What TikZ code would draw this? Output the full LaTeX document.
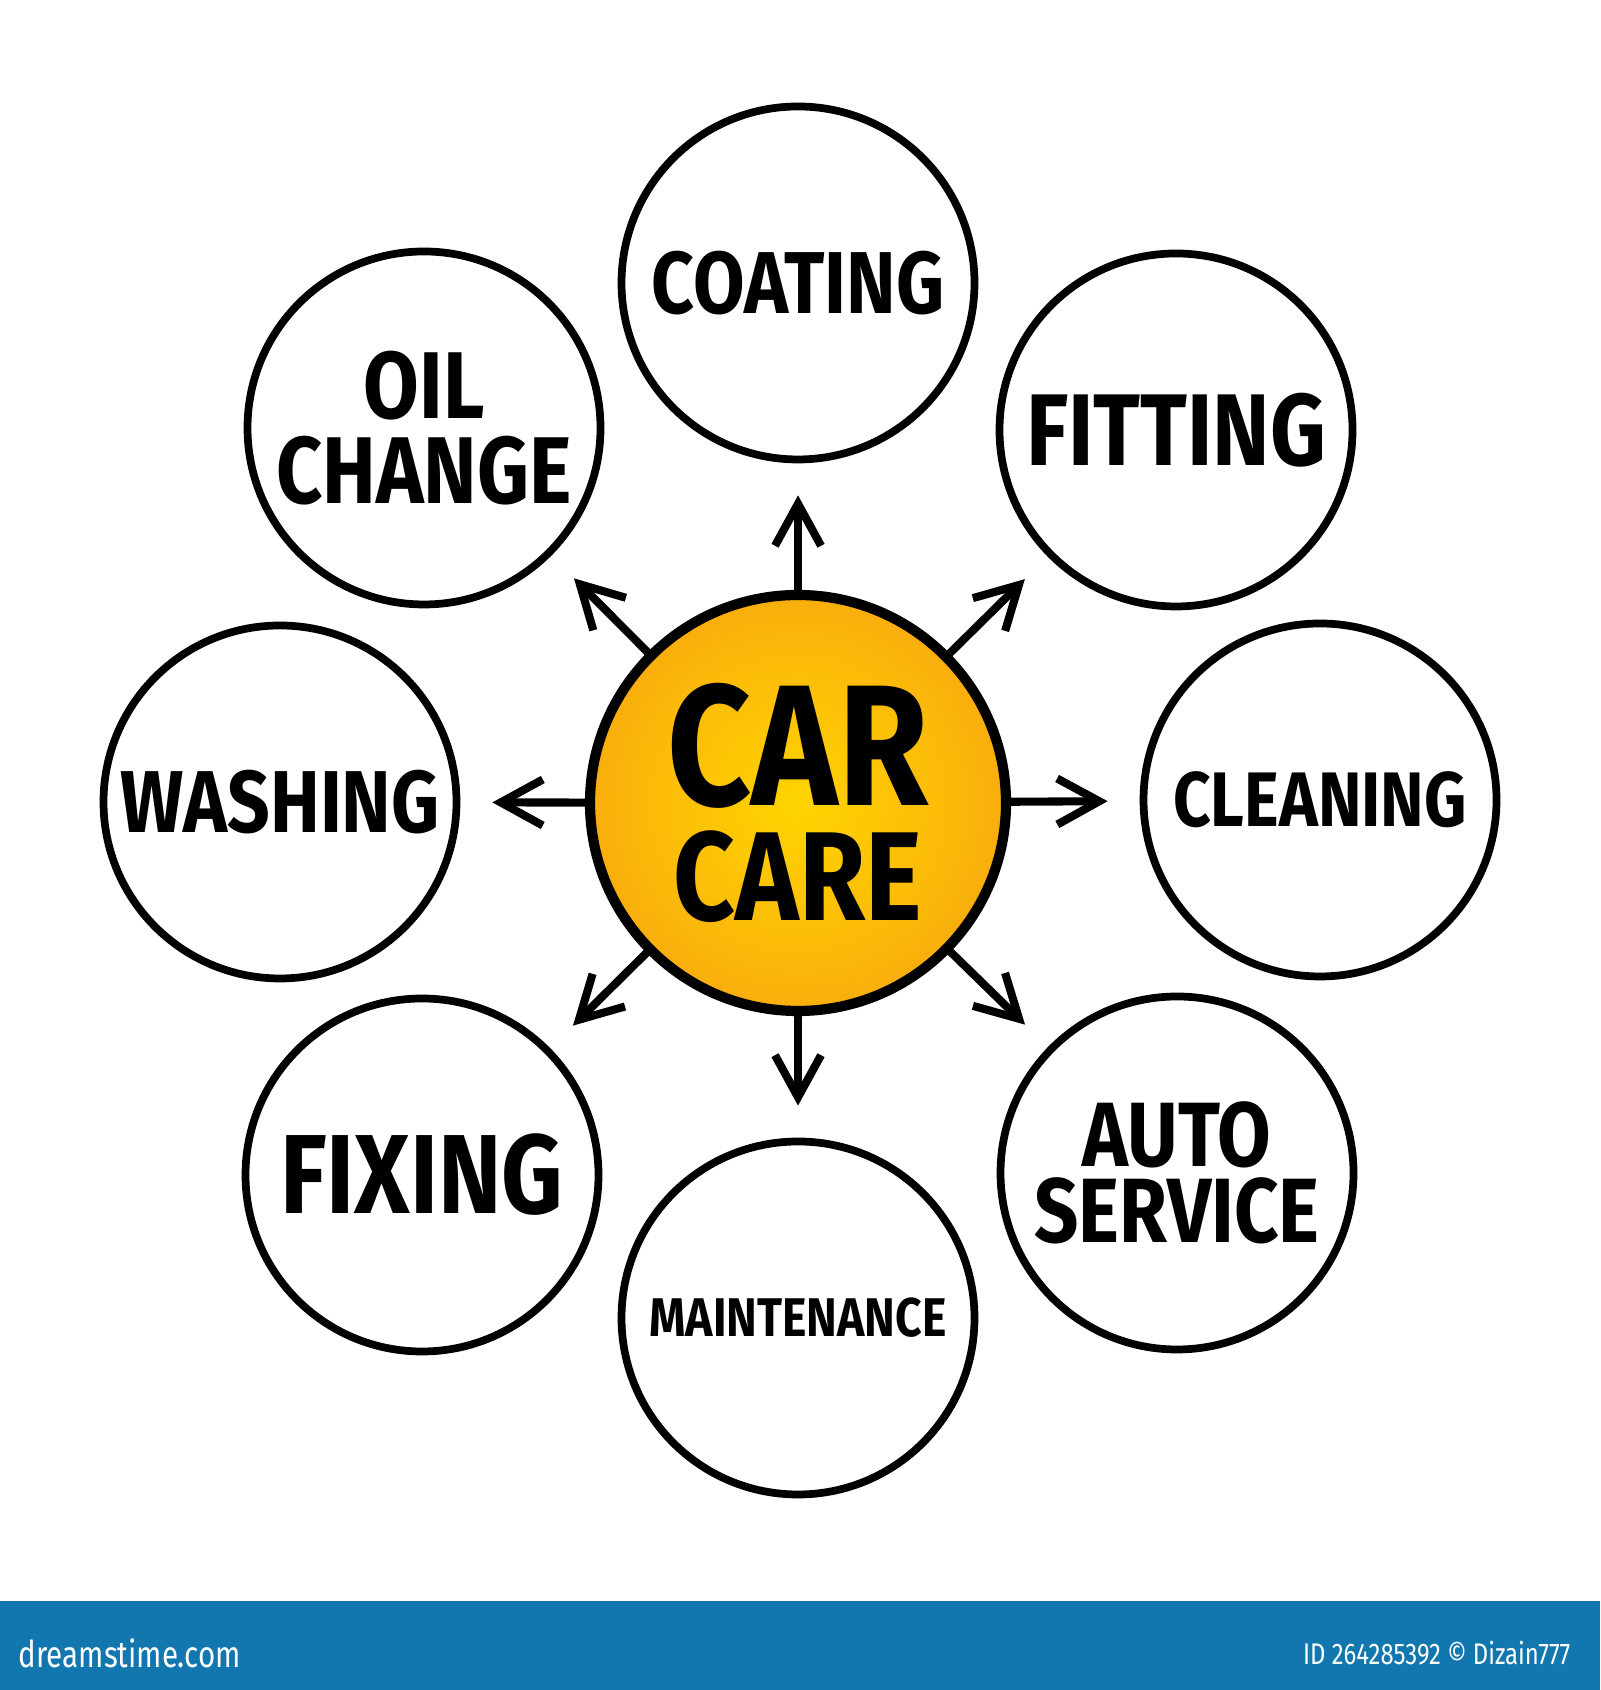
\documentclass[tikz,border=0pt]{standalone}
\usepackage{fontspec}
\usepackage{tikz}
\usetikzlibrary{arrows.meta}
\newfontfamily\markerfont{Fira Sans}[FakeStretch=0.85]
\newfontfamily\barfont{Fira Sans}[FakeStretch=0.8]
\definecolor{ink}{HTML}{000000}
\definecolor{glowin}{HTML}{FFD400}
\definecolor{glowmid}{HTML}{FBB70A}
\definecolor{glowout}{HTML}{F39A10}
\definecolor{barblue}{HTML}{1277AF}
\pgfdeclareradialshading{carglow}{\pgfpoint{0bp}{0bp}}{color(0bp)=(glowin); color(20bp)=(glowmid); color(34bp)=(glowout); color(50bp)=(glowout)}
\tikzset{
  topic/.style={circle, draw=ink, line width=2.2pt, minimum size=3.53cm, inner sep=0pt, align=center},
  hub/.style={circle, draw=ink, line width=2.9pt, minimum size=4.16cm, inner sep=0pt, align=center, shading=carglow},
  fs/.style 2 args={font=\markerfont\bfseries\fontsize{#1}{#2}\selectfont},
  link/.style={draw=ink, line width=2.3pt, line cap=round, line join=round, shorten >=3.2mm, -{Straight Barb[length=4.2mm,width=4.6mm]}},
  credit/.style={text=white, inner sep=0pt, font=\barfont}
}

\begin{document}
\begin{tikzpicture}
\useasboundingbox (0,0) rectangle (16,16.9);
% footer bar
\fill[barblue] (0,0) rectangle (16,0.89);
\node[credit, anchor=west] (site) at (0.18,0.37) {\fontsize{10.5}{12}\selectfont dreamstime.com};
\node[credit, anchor=east] (idtag) at (15.71,0.37) {\fontsize{8.5}{10}\selectfont ID 264285392 © Dizain777};

% centre
\node[hub, fs={36}{32.5}] (car) at (7.98,8.87) {{\fontsize{49}{32.5}\selectfont CAR}\\CARE};

% ring of topics
\node[topic, fs={25}{30}] (coating) at (7.98,14.07) {COATING};
\node[topic, fs={27}{24}] (oil) at (4.24,12.62) {OIL\\CHANGE};
\node[topic, fs={29}{34}] (fitting) at (11.76,12.60) {FITTING};
\node[topic, fs={25}{30}] (washing) at (2.80,8.88) {WASHING};
\node[topic, fs={22}{26}] (cleaning) at (13.20,8.90) {CLEANING};
\node[topic, fs={32}{38}] (fixing) at (4.22,5.15) {FIXING};
\node[topic, fs={26}{21.5}] (auto) at (11.77,5.17) {AUTO\\SERVICE};
\node[topic, fs={15.5}{18}] (maint) at (7.98,3.72) {MAINTENANCE};

% arrows out of the centre
\foreach \t in {coating,fitting,cleaning,auto,maint,fixing,washing,oil}
  \draw[link] (car) -- (\t);
\end{tikzpicture}
\end{document}
